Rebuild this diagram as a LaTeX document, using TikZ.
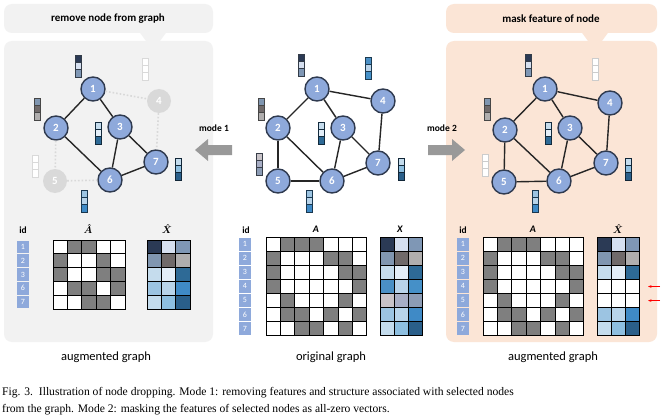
\documentclass[tikz,border=0pt]{standalone}
\usepackage{amsmath}
\usepackage{fontspec}
\setmainfont{Carlito}
\newfontfamily\capfont{Liberation Serif}
\usetikzlibrary{arrows.meta}
\definecolor{nodefill}{HTML}{8EA9DB}
\definecolor{nodeline}{HTML}{2F3A4F}
\definecolor{idfill}{HTML}{8EA9DB}
\definecolor{grayp}{HTML}{F2F2F2}
\definecolor{peach}{HTML}{FBE5D6}
\definecolor{adj}{HTML}{7F7F7F}
\definecolor{Xaa}{HTML}{2B3A55}\definecolor{Xab}{HTML}{D6E0F0}\definecolor{Xac}{HTML}{7F97B5}
\definecolor{Xba}{HTML}{8096B0}\definecolor{Xbb}{HTML}{706A6A}\definecolor{Xbc}{HTML}{B0AEAE}
\definecolor{Xca}{HTML}{C5DCED}\definecolor{Xcb}{HTML}{E3EEF8}\definecolor{Xcc}{HTML}{2E6A96}
\definecolor{Xda}{HTML}{4A8FC5}\definecolor{Xdb}{HTML}{B9D3EA}\definecolor{Xdc}{HTML}{4590C8}
\definecolor{Xea}{HTML}{C8C3C8}\definecolor{Xeb}{HTML}{A8AEC5}\definecolor{Xec}{HTML}{8C9CB5}
\definecolor{Xfa}{HTML}{9CC4E2}\definecolor{Xfb}{HTML}{B8D4EA}\definecolor{Xfc}{HTML}{3F8AC6}
\definecolor{Xga}{HTML}{C4DCED}\definecolor{Xgb}{HTML}{8EBFE0}\definecolor{Xgc}{HTML}{2A5F8A}
\definecolor{ghost}{HTML}{D9D9D9}
\newcommand\myfv[5]{% x y c1 c2 c3
  \foreach \cc [count=\k from 0] in {#3,#4,#5}{
    \draw[fill=\cc, draw=#5!40!black, line width=0.6pt] (#1-3,#2+\k*7.3) rectangle ++(6.5,7.3);}}
\newcommand\myghostfv[3]{% x y col
  \foreach \k in {0,1,2}{
    \draw[fill=white, draw=#3, line width=0.6pt] (#1-3,#2+\k*7.3) rectangle ++(6.5,7.3);}}
\tikzset{
  x=1pt,y=-1pt,
  gn/.style={circle,minimum size=24pt,inner sep=0pt,fill=nodefill,draw=nodeline,line width=1.4pt,text=white,font=\fontsize{11}{11}\bfseries},
  gh/.style={circle,minimum size=24pt,inner sep=0pt,fill=ghost,text=white,font=\fontsize{11}{11}\bfseries},
  ed/.style={line width=1.4pt,draw=black!85},
  ded/.style={line width=1.6pt,draw=ghost,dotted},
  lab/.style={font=\fontsize{9.5}{10}\bfseries},
  mlab/.style={font=\fontsize{10}{10}\bfseries\itshape},
  sublab/.style={font=\fontsize{12.5}{13}\selectfont},
  cell/.style={draw=black,line width=1pt},
}
\newcommand\myidcol[4]{% x y h list
  \foreach \t [count=\k from 0] in {#4}{
    \fill[idfill] (#1,#2+\k*#3+0.6) rectangle ++(12,#3-1.2);
    \node[text=white,font=\fontsize{8}{8}\selectfont] at (#1+6,#2+\k*#3+#3/2) {\t};}}
\begin{document}
\begin{tikzpicture}
\useasboundingbox (0,0) rectangle (662,420);
\fill[white] (0,0) rectangle (662,420);
% panels
\fill[grayp,rounded corners=8pt] (4,4) rectangle (213,33);
\fill[grayp] (138,30) -- (168,30) -- (160,41) -- (146,41) -- cycle;
\fill[grayp,rounded corners=8pt] (4,41) rectangle (213,342);
\node[lab,font=\fontsize{11}{11}\bfseries] (t1) at (108,19) {remove node from graph};
\fill[peach,rounded corners=8pt] (446,4) rectangle (657,33);
\fill[peach] (580,30) -- (610,30) -- (602,41) -- (588,41) -- cycle;
\fill[peach,rounded corners=8pt] (446,41) rectangle (657,342);
\node[lab,font=\fontsize{11}{11}\bfseries] (t2) at (551,19) {mask feature of node};

% ---------- middle graph
\node[gn] (m1) at (317,89) {1};
\node[gn] (m4) at (383,101) {4};
\node[gn] (m2) at (278,128) {2};
\node[gn] (m3) at (343,128) {3};
\node[gn] (m7) at (378,163) {7};
\node[gn] (m5) at (278,181) {5};
\node[gn] (m6) at (332,181) {6};
\foreach \a/\b in {1/2,1/3,1/4,2/5,2/6,3/6,3/7,4/7,5/6,6/7}
  \draw[ed] (m\a) -- (m\b);
\myfv{301}{54}{Xaa}{Xab}{Xac}
\myfv{368}{57}{Xda}{Xdb}{Xdc}
\myfv{261}{98}{Xba}{Xbb}{Xbc}
\myfv{321}{122}{Xca}{Xcb}{Xcc}
\myfv{259}{153}{Xea}{Xeb}{Xec}
\myfv{309}{190}{Xfa}{Xfb}{Xfc}
\myfv{401}{158}{Xga}{Xgb}{Xgc}

% ---------- left graph
\node[gn] (l1) at (93,89) {1};
\node[gh] (l4) at (159,101) {4};
\node[gn] (l2) at (56,128) {2};
\node[gn] (l3) at (120,127) {3};
\node[gn] (l7) at (156,162) {7};
\node[gh] (l5) at (55,181) {5};
\node[gn] (l6) at (110,180) {6};
\foreach \a/\b in {1/4,4/7,2/5,5/6}
  \draw[ded] (l\a) -- (l\b);
\foreach \a/\b in {1/2,1/3,2/6,3/6,3/7,6/7}
  \draw[ed] (l\a) -- (l\b);
\myfv{78}{55}{Xaa}{Xab}{Xac}
\myghostfv{145}{58}{ghost}
\myfv{37}{98}{Xba}{Xbb}{Xbc}
\myfv{98}{122}{Xca}{Xcb}{Xcc}
\myghostfv{35}{155}{ghost}
\myfv{84}{190}{Xfa}{Xfb}{Xfc}
\myfv{178}{158}{Xga}{Xgb}{Xgc}

% ---------- right graph
\node[gn] (r1) at (545,89) {1};
\node[gn] (r4) at (610,103) {4};
\node[gn] (r2) at (505,130) {2};
\node[gn] (r3) at (570,128) {3};
\node[gn] (r7) at (606,163) {7};
\node[gn] (r5) at (504,182) {5};
\node[gn] (r6) at (559,181) {6};
\foreach \a/\b in {1/2,1/3,1/4,2/5,2/6,3/6,3/7,4/7,5/6,6/7}
  \draw[ed] (r\a) -- (r\b);
\myfv{528}{54}{Xaa}{Xab}{Xac}
\myghostfv{595}{58}{black!20}
\myfv{487}{98}{Xba}{Xbb}{Xbc}
\myfv{548}{122}{Xca}{Xcb}{Xcc}
\myghostfv{485}{154}{black!20}
\myfv{535}{190}{Xfa}{Xfb}{Xfc}
\myfv{628}{158}{Xga}{Xgb}{Xgc}

% ---------- mode arrows
\fill[black!40] (232,145) -- (208,145) -- (208,139) -- (195,150) -- (208,161) -- (208,155) -- (232,155) -- cycle;
\node[lab] (md1) at (214,128) {mode 1};
\fill[black!40] (428,145) -- (452,145) -- (452,139) -- (465,150) -- (452,161) -- (452,155) -- (428,155) -- cycle;
\node[lab] (md2) at (442,128) {mode 2};

% ---------- matrices: middle
\node[lab] (idm) at (246,230) {id};
\node[mlab] (Am) at (316,229) {A};
\node[mlab] (Xm) at (400,229) {X};
\myidcol{239}{237}{14.1}{1,2,3,4,5,6,7}
\foreach \row [count=\i from 0] in {{0,1,1,1,0,0,0},{1,0,0,0,1,1,0},{1,0,0,0,0,1,1},{1,0,0,0,0,0,1},{0,1,0,0,0,1,0},{0,1,1,0,1,0,1},{0,0,1,1,0,1,0}}
  \foreach \v [count=\j from 0] in \row {
    \ifnum\v=1 \def\cf{adj}\else\def\cf{white}\fi
    \draw[cell,fill=\cf] (266+\j*14.4,237+\i*14.1) rectangle ++(14.4,14.1);}
\foreach \r [count=\i from 0] in {a,b,c,d,e,f,g}
  \foreach \c [count=\j from 0] in {a,b,c}
    \draw[cell,fill=X\r\c] (380+\j*14,237+\i*14.1) rectangle ++(14,14.1);
\node[sublab] (om) at (331,357) {original graph};

% ---------- matrices: left
\node[lab] (idl) at (23,230) {id};
\node[mlab] (Al) at (88,229) {$\boldsymbol{\hat{A}}$};
\node[mlab] (Xl) at (167,229) {$\boldsymbol{\hat{X}}$};
\myidcol{17}{240}{13.8}{1,2,3,6,7}
\foreach \row [count=\i from 0] in {{0,1,1,0,0},{1,0,0,1,0},{1,0,0,1,1},{0,1,1,0,1},{0,0,1,1,0}}
  \foreach \v [count=\j from 0] in \row {
    \ifnum\v=1 \def\cf{adj}\else\def\cf{white}\fi
    \draw[cell,fill=\cf] (53+\j*14.4,240+\i*13.8) rectangle ++(14.4,13.8);}
\foreach \r [count=\i from 0] in {a,b,c,f,g}
  \foreach \c [count=\j from 0] in {a,b,c}
    \draw[cell,fill=X\r\c] (147+\j*14.4,240+\i*13.8) rectangle ++(14.4,13.8);
\node[sublab] (al) at (106,357) {augmented graph};

% ---------- matrices: right
\node[lab] (idr) at (463,230) {id};
\node[mlab] (Ar) at (533,229) {A};
\node[mlab] (Xr) at (618,229) {$\boldsymbol{\hat{X}}$};
\myidcol{457}{237}{14.1}{1,2,3,4,5,6,7}
\foreach \row [count=\i from 0] in {{0,1,1,1,0,0,0},{1,0,0,0,1,1,0},{1,0,0,0,0,1,1},{1,0,0,0,0,0,1},{0,1,0,0,0,1,0},{0,1,1,0,1,0,1},{0,0,1,1,0,1,0}}
  \foreach \v [count=\j from 0] in \row {
    \ifnum\v=1 \def\cf{adj}\else\def\cf{white}\fi
    \draw[cell,fill=\cf] (483+\j*14.4,237+\i*14.1) rectangle ++(14.4,14.1);}
\foreach \r [count=\i from 0] in {a,b,c,d,e,f,g}
  \foreach \c [count=\j from 0] in {a,b,c}{
    \ifnum\i=3 \def\cf{white}\else\ifnum\i=4 \def\cf{white}\else\def\cf{X\r\c}\fi\fi
    \draw[cell,fill=\cf] (597+\j*14,237+\i*14.1) rectangle ++(14,14.1);}
\coordinate (ra1) at (660,286.5);
\coordinate (ra2) at (660,300.6);
\draw[red,-{Stealth[length=3.5pt]},line width=1pt] (ra1) -- ++(-12,0);
\draw[red,-{Stealth[length=3.5pt]},line width=1pt] (ra2) -- ++(-12,0);
\node[sublab] (ar) at (553,357) {augmented graph};

% ---------- caption
\node[anchor=west,inner sep=0pt,font=\capfont\fontsize{11.6}{13}\selectfont] (c1) at (2,393) {Fig. 3.\ \ Illustration of node dropping. Mode 1: removing features and structure associated with selected nodes};
\node[anchor=west,inner sep=0pt,font=\capfont\fontsize{11.6}{13}\selectfont] (c2) at (2,410) {from the graph. Mode 2: masking the features of selected nodes as all-zero vectors.};
\end{tikzpicture}
\end{document}
